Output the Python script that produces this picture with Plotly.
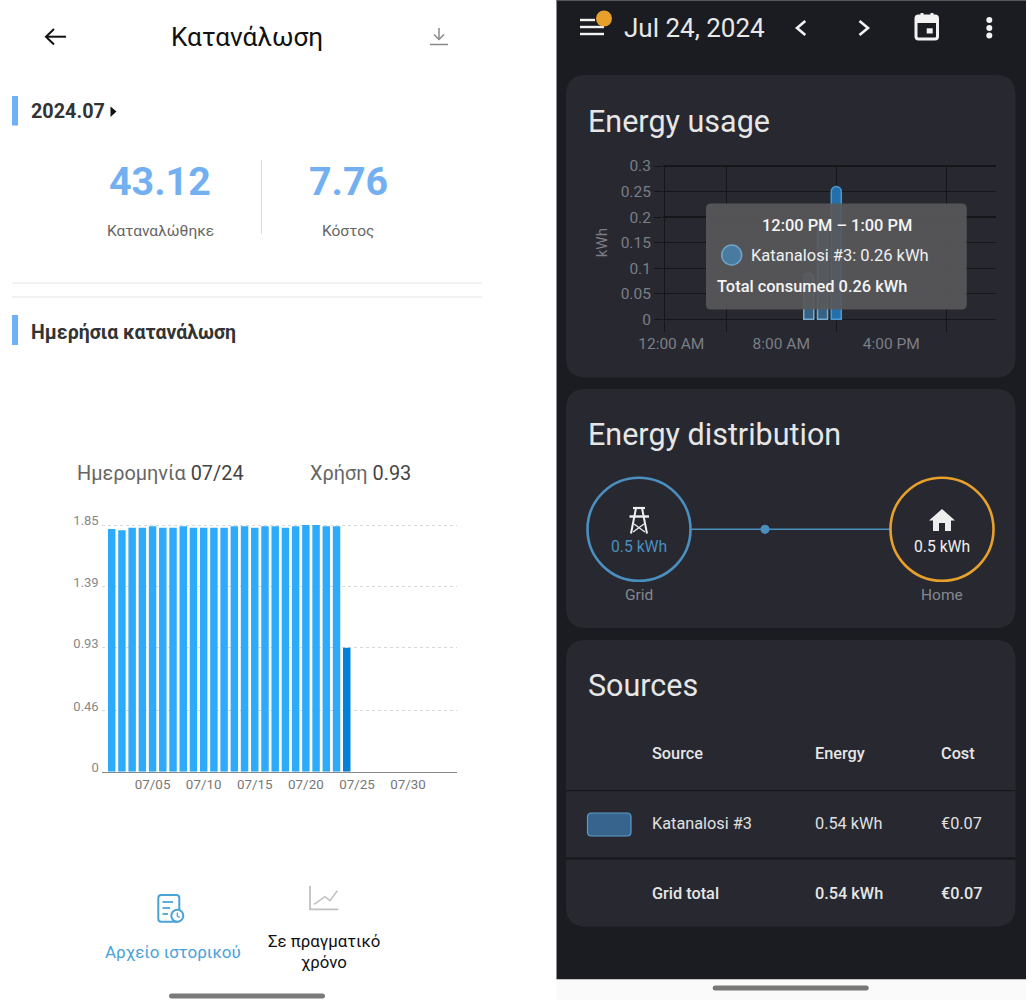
import plotly.graph_objects as go

# ---------- data ----------
month_days = list(range(1, 32))
daily_use = [1.82, 1.81, 1.83, 1.83, 1.84, 1.83, 1.83, 1.84, 1.83, 1.83, 1.83, 1.83,
             1.84, 1.84, 1.83, 1.84, 1.84, 1.83, 1.84, 1.85, 1.85, 1.84, 1.84, 0.93,
             0, 0, 0, 0, 0, 0, 0]
selected_day = 24
daily_yticks = [0, 0.46, 0.93, 1.39, 1.85]
daily_yticktext = ["0", "0.46", "0.93", "1.39", "1.85"]
daily_xticks = [5, 10, 15, 20, 25, 30]
daily_xticktext = ["07/05", "07/10", "07/15", "07/20", "07/25", "07/30"]

hours = list(range(24))
hourly_use = [None] * 10 + [0.09, 0.19, 0.26] + [None] * 11
hovered_hour = 12
hourly_yticks = [0, 0.05, 0.1, 0.15, 0.2, 0.25, 0.3]
hourly_yticktext = ["0", "0.05", "0.1", "0.15", "0.2", "0.25", "0.3"]
hourly_xticks = [0, 8, 16]
hourly_xticktext = ["12:00 AM", "8:00 AM", "4:00 PM"]
hourly_grid_hours = [4, 12, 20]

W, H = 1034, 1000
FONT = "Roboto"
BG_DARK, PANEL, GRID_D = "#1a1c21", "#272830", "#14161a"
BLUE_L, ORANGE = "#4b8fbf", "#e8a02c"


def X(x): return x / W
def Y(y): return 1 - y / H


shapes, notes = [], []


def rect(x0, y0, x1, y1, fill, layer="below"):
    shapes.append(dict(type="rect", xref="paper", yref="paper", x0=X(x0), x1=X(x1), y0=Y(y0), y1=Y(y1),
                       fillcolor=fill, line=dict(width=0), layer=layer))


def rrect(x0, y0, x1, y1, r, fill="rgba(0,0,0,0)", line=None, lw=0, layer="below"):
    p = (f"M{X(x0+r)},{Y(y0)} L{X(x1-r)},{Y(y0)} Q{X(x1)},{Y(y0)} {X(x1)},{Y(y0+r)} "
         f"L{X(x1)},{Y(y1-r)} Q{X(x1)},{Y(y1)} {X(x1-r)},{Y(y1)} L{X(x0+r)},{Y(y1)} "
         f"Q{X(x0)},{Y(y1)} {X(x0)},{Y(y1-r)} L{X(x0)},{Y(y0+r)} Q{X(x0)},{Y(y0)} {X(x0+r)},{Y(y0)} Z")
    shapes.append(dict(type="path", xref="paper", yref="paper", path=p, fillcolor=fill,
                       line=dict(color=line or "rgba(0,0,0,0)", width=lw), layer=layer))


def circ(cx, cy, r, fill="rgba(0,0,0,0)", line=None, lw=0, layer="above"):
    shapes.append(dict(type="circle", xref="paper", yref="paper", x0=X(cx-r), x1=X(cx+r), y0=Y(cy+r), y1=Y(cy-r),
                       fillcolor=fill, line=dict(color=line or "rgba(0,0,0,0)", width=lw), layer=layer))


def poly(pts, color=None, lw=2, fill=None, closed=False, layer="above"):
    p = "M" + " L".join(f"{X(a)},{Y(b)}" for a, b in pts) + (" Z" if closed else "")
    shapes.append(dict(type="path", xref="paper", yref="paper", path=p,
                       fillcolor=fill or "rgba(0,0,0,0)",
                       line=dict(color=color or "rgba(0,0,0,0)", width=lw if color else 0), layer=layer))


def text(x, y, s, size, color, anchor="center", weight=400):
    if anchor == "left":
        x -= 1.3
    notes.append(dict(xref="paper", yref="paper", x=X(x), y=Y(y), text=s, showarrow=False, xanchor=anchor,
                      yanchor="middle", borderpad=0, align="center",
                      font=dict(family=FONT, size=size, color=color, weight=weight)))


# ---------- left phone ----------
poly([(66, 36.7), (46.5, 36.7)], "#111", 2)
poly([(54, 29), (46, 36.7), (54, 44.5)], "#111", 2)
text(247, 37, "Κατανάλωση", 26.2, "#111")
poly([(430, 44.5), (448, 44.5)], "#888", 1.5)
poly([(439, 28), (439, 39)], "#888", 1.5)
poly([(434, 34.5), (439, 39.5), (444, 34.5)], "#888", 1.5)

rect(12, 96, 18, 125.5, "#6fb1f5")
text(31, 111.5, "2024.07", 19.8, "#333", "left", 700)
poly([(110.5, 106.5), (116.5, 111.5), (110.5, 117)], fill="#111", closed=True)
text(160, 181, "43.12", 39.4, "#72b0f2", weight=700)
text(348, 181, "7.76", 39.4, "#72b0f2", weight=700)
poly([(261.5, 160), (261.5, 234)], "#dcdcdc", 1)
text(160, 231, "Καταναλώθηκε", 15.5, "#666")
text(348, 231, "Κόστος", 15.5, "#666")
poly([(12, 283), (482, 283)], "#eeeeee", 1.5)
poly([(12, 297), (482, 297)], "#eeeeee", 1.5)
rect(12, 315, 18, 345, "#6fb1f5")
text(31, 332, "Ημερήσια κατανάλωση", 19.5, "#333", "left", 700)
text(77, 473, "Ημερομηνία <span style='color:#444'>07/24</span>", 19.9, "#666", "left")
text(310, 473, "Χρήση <span style='color:#444'>0.93</span>", 19.9, "#666", "left")

# bottom tabs
rrect(158.3, 895, 179.3, 921.7, 3, line="#4aa3d8", lw=2, layer="above")
poly([(162.5, 902), (173, 902)], "#4aa3d8", 1.8)
poly([(162.5, 908), (170, 908)], "#4aa3d8", 1.8)
poly([(162.5, 914), (168, 914)], "#4aa3d8", 1.8)
circ(177.3, 915.7, 6, fill="#ffffff", line="#4aa3d8", lw=2)
poly([(177.3, 912.5), (177.3, 916), (180, 917.5)], "#4aa3d8", 1.3)
text(173, 952, "Αρχείο ιστορικού", 17, "#4aa3d8")
poly([(310, 885.7), (310, 909.3), (338.3, 909.3)], "#c0c0c0", 1.8)
poly([(314, 904.3), (325, 896.7), (330, 900.7), (337.3, 890.7)], "#c0c0c0", 1.5)
text(323.5, 941, "Σε πραγματικό", 16.8, "#111")
text(323.5, 962, "χρόνο", 16.8, "#111")
rrect(169, 993.5, 325, 998.5, 2.5, "#7a7a7a")

# ---------- right phone ----------
rect(556.5, 0, 1026, 979.5, BG_DARK)
rect(556.5, 0, 1026, 1, "#55575c")
rect(556.5, 979.5, 1026, 1000, "#fafafa")
rrect(566, 75, 1015.5, 377.5, 20, PANEL)
rrect(566, 389, 1015.5, 628, 20, PANEL)
rrect(566, 640, 1015.5, 926.5, 20, PANEL)
rrect(712.7, 985.5, 868.7, 990.5, 2.5, "#777777")

poly([(580, 20), (595, 20)], "#f2f2f2", 2.4)
poly([(580, 27), (604, 27)], "#f2f2f2", 2.4)
poly([(580, 34), (604, 34)], "#f2f2f2", 2.4)
circ(604, 18.5, 8, fill=ORANGE)
text(624, 28, "Jul 24, 2024", 26, "#e8e8e8", "left")
poly([(805.3, 21), (797, 28), (805.3, 35)], "#f2f2f2", 2.6)
poly([(859.5, 21), (868, 28), (859.5, 35)], "#f2f2f2", 2.6)
rrect(916, 16, 937.5, 39, 2.5, line="#f2f2f2", lw=3, layer="above")
rect(916, 16, 937.5, 23, "#f2f2f2", "above")
rect(920.5, 13, 923.5, 17, "#f2f2f2", "above")
rect(930.5, 13, 933.5, 17, "#f2f2f2", "above")
rect(926.7, 28.3, 932.7, 33.5, "#f2f2f2", "above")
for yy in (20, 28, 35.5):
    circ(989.3, yy, 3, fill="#f2f2f2")

text(588, 121, "Energy usage", 30.5, "#e6e6e6", "left")
text(588, 434.5, "Energy distribution", 30.5, "#e6e6e6", "left")
text(588, 685.5, "Sources", 30.5, "#e6e6e6", "left")

# tooltip over the hourly bars
rrect(706, 203.5, 966.7, 309.5, 5, "rgba(88,88,90,0.93)", layer="above")
text(836.7, 226, "12:00 PM – 1:00 PM", 16.4, "#f4f4f4", weight=500)
circ(731.7, 255, 10, fill="#497a9f", line="#6fa3c9", lw=1.5)
text(751, 255, "Katanalosi #3: 0.26 kWh", 16.5, "#f0f0f0", "left")
text(717, 286, "Total consumed 0.26 kWh", 16.4, "#f4f4f4", "left", 500)

# energy distribution
poly([(691, 529.3), (890, 529.3)], BLUE_L, 1.6)
circ(765, 529.3, 4.6, fill=BLUE_L)
circ(639, 529.3, 51.5, line=BLUE_L, lw=2.6)
circ(942, 529.3, 51.5, line=ORANGE, lw=2.6)
poly([(633, 508), (645, 508)], "#f0f0f0", 2.2)
poly([(629.5, 516.5), (649, 516.5)], "#f0f0f0", 2.4)
poly([(636, 508), (631, 533.5)], "#f0f0f0", 2)
poly([(642, 508), (647, 533.5)], "#f0f0f0", 2)
poly([(634, 524), (645, 532)], "#f0f0f0", 1.2)
poly([(644, 524), (633, 532)], "#f0f0f0", 1.2)
poly([(942, 509), (955, 520.5), (951, 520.5), (951, 531), (945, 531), (945, 523), (939, 523),
      (939, 531), (933, 531), (933, 520.5), (929, 520.5)], fill="#eeeeee", closed=True)
text(639, 546, "0.5 kWh", 15.7, BLUE_L)
text(942, 546, "0.5 kWh", 15.7, "#f0f0f0")
text(639, 594.5, "Grid", 15.5, "#85878f")
text(942, 594.5, "Home", 15.5, "#85878f")

# sources table
text(652.5, 753.5, "Source", 16.3, "#e6e6e6", "left", 500)
text(815, 753.5, "Energy", 16.3, "#e6e6e6", "left", 500)
text(941, 753.5, "Cost", 16.3, "#e6e6e6", "left", 500)
poly([(566, 790.7), (1015.5, 790.7)], GRID_D, 1)
rrect(587.5, 813, 631, 836, 4, "#36648c", "#5c9ccc", 1.2)
text(652.5, 823.5, "Katanalosi #3", 16.3, "#e0e0e0", "left")
text(815, 823.5, "0.54 kWh", 16.3, "#e0e0e0", "left")
text(941, 823.5, "€0.07", 16.3, "#e0e0e0", "left")
poly([(566, 858.5), (1015.5, 858.5)], GRID_D, 2)
text(652.5, 893, "Grid total", 16.3, "#e6e6e6", "left", 500)
text(815, 893, "0.54 kWh", 16.3, "#e6e6e6", "left", 500)
text(941, 893, "€0.07", 16.3, "#e6e6e6", "left", 500)

# ---------- figure ----------
fig = go.Figure()
fig.add_trace(go.Bar(
    x=month_days, y=daily_use, xaxis="x", yaxis="y", width=0.73, showlegend=False,
    marker=dict(color=["#0080d8" if d == selected_day else "#2eaafa" for d in month_days], line=dict(width=0))))
fig.add_trace(go.Bar(
    x=hours, y=hourly_use, xaxis="x2", yaxis="y2", width=0.73, showlegend=False,
    marker=dict(color=["rgba(36,125,195,0.85)" if h == hovered_hour else "rgba(70,145,200,0.55)" for h in hours],
                line=dict(color=["#4a9ad4" if h == hovered_hour else "#76aed6" for h in hours], width=1.5),
                cornerradius=5)))
# carries the raised tick labels of the daily chart (the labels sit a little above their grid lines)
fig.add_trace(go.Scatter(x=[None], y=[None], xaxis="x", yaxis="y3", showlegend=False, mode="markers"))

DAILY_TOP = 1.9
px_per_unit = (771.7 - 525) / 1.85
daily_top_px = 771.7 - DAILY_TOP * px_per_unit
LABEL_RAISE = 4.3

fig.update_layout(
    width=W, height=H, autosize=False, margin=dict(l=0, r=0, t=0, b=0),
    paper_bgcolor="#ffffff", plot_bgcolor="rgba(0,0,0,0)", bargap=0.27,
    font=dict(family=FONT), shapes=shapes, annotations=notes, hovermode=False,
    xaxis=dict(domain=[X(101.7), X(456.7)], range=[0.02, 34.76], anchor="y", tickmode="array", automargin=False,
               tickvals=daily_xticks, ticktext=daily_xticktext, showgrid=False, zeroline=False,
               showline=True, linecolor="#8a8a8a", linewidth=1.2, ticks="",
               tickfont=dict(size=13.4, color="#777777", family=FONT)),
    yaxis=dict(domain=[Y(771.7), Y(daily_top_px)], range=[0, DAILY_TOP], anchor="x", tickmode="array",
               automargin=False, tickvals=daily_yticks, showticklabels=False,
               showgrid=True, gridcolor="#d8d8d8", griddash="dot", gridwidth=1, zeroline=False,
               ticks="", showline=False),
    yaxis3=dict(domain=[Y(771.7 - LABEL_RAISE), Y(daily_top_px - LABEL_RAISE)], range=[0, DAILY_TOP], anchor="x",
                tickmode="array", automargin=False, tickvals=daily_yticks, ticktext=daily_yticktext,
                showgrid=False, zeroline=False, ticks="", showline=False, ticklabelstandoff=2,
                tickfont=dict(size=13, color="#888888", family=FONT)),
    xaxis2=dict(domain=[X(663), X(995.8)], range=[-0.6, 23.6], anchor="y2", tickmode="array", automargin=False,
                tickvals=hourly_xticks, ticktext=hourly_xticktext, showgrid=False, zeroline=False,
                showline=False, ticks="outside", ticklen=10, tickcolor="rgba(0,0,0,0)", ticklabelstandoff=-1,
                minor=dict(tickmode="array", tickvals=hourly_grid_hours + [-0.5], showgrid=True,
                           gridcolor=GRID_D, gridwidth=1.3, ticks="outside", ticklen=10, tickcolor=GRID_D),
                tickfont=dict(size=15.5, color="#7c7e86", family=FONT)),
    yaxis2=dict(domain=[Y(320.8), Y(164.5)], range=[-0.003, 0.303], anchor="x2", tickmode="array", automargin=False,
                tickvals=hourly_yticks, ticktext=hourly_yticktext, showgrid=True, gridcolor=GRID_D,
                gridwidth=1.3, zeroline=False, showline=False, ticks="outside", ticklen=8, tickcolor=GRID_D,
                tickfont=dict(size=15.5, color="#7c7e86", family=FONT),
                title=dict(text="kWh", standoff=9, font=dict(size=15, color="#7c7e86", family=FONT))),
)

fig.write_html("out.html", config=dict(displayModeBar=False, staticPlot=True),
               post_script="document.body.style.margin='0';document.body.style.overflow='hidden';")
